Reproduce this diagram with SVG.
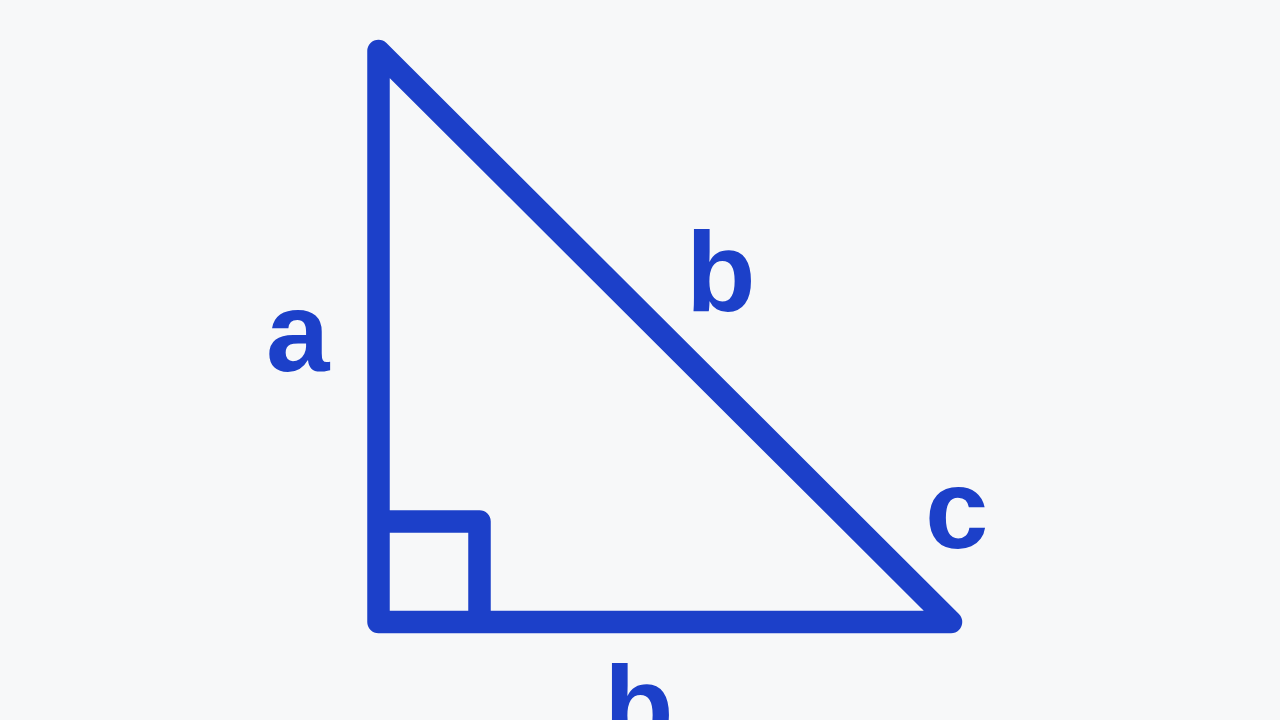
<svg xmlns="http://www.w3.org/2000/svg" width="1280" height="720" viewBox="0 0 1280 720">
<style>
.ln{fill:none;stroke:#1c40c9;stroke-width:22.5;stroke-linejoin:round;stroke-linecap:round}
.lb{fill:#1c40c9;font-family:"Liberation Sans",Arial,sans-serif;font-weight:bold;font-size:114px}
</style>
<rect width="1280" height="720" fill="#f7f8f9"/>
<g id="triangle">
<polygon class="ln" points="378.5,51 378.5,622 951,622"/>
<polyline class="ln" points="378.5,521.5 479.5,521.5 479.5,622" style="stroke-linecap:butt"/>
</g>
<g id="labels">
<text class="lb" x="266" y="371">a</text>
<text class="lb" x="686" y="311">b</text>
<text class="lb" x="925" y="548">c</text>
<text class="lb" x="604" y="745">b</text>
</g>
</svg>
